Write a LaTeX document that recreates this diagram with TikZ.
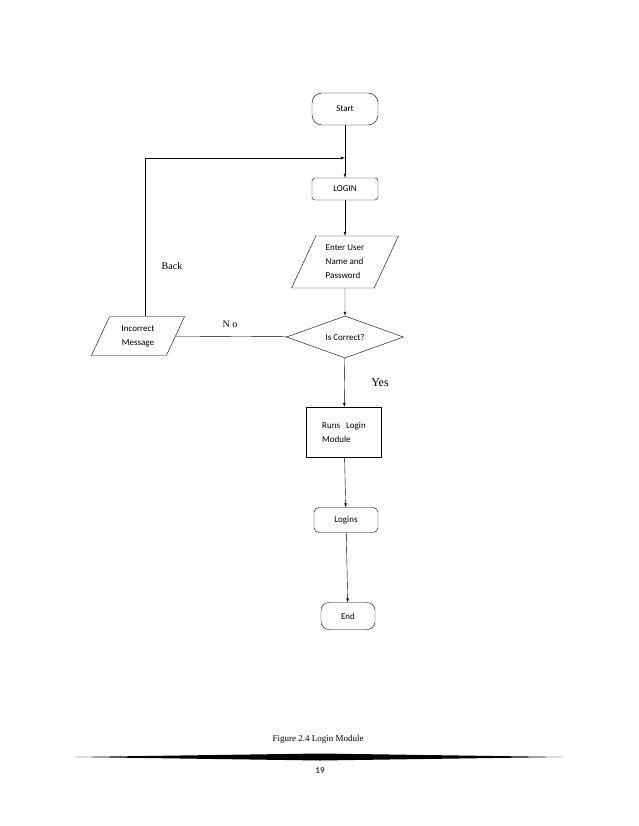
\documentclass[tikz,border=0pt]{standalone}
\usepackage{fontspec}
\setmainfont{Liberation Serif}
\newfontfamily\boxfont{Carlito}
\usetikzlibrary{shapes.geometric}
\begin{document}
\begin{tikzpicture}[x=1pt,y=-1pt,
  box/.style={draw, font=\boxfont\fontsize{9}{14}\selectfont, inner sep=2pt},
  io/.style={box, trapezium, trapezium left angle=65, trapezium right angle=115, align=left},
  arr/.style={-latex, thin}]
\useasboundingbox (0,0) rectangle (638,826);
\node [box, rounded corners=10pt, minimum width=66pt, minimum height=32pt] (start) at (345,109) {Start};
\node [box, rounded corners=3pt, minimum width=66pt, minimum height=22pt] (login) at (345,189) {LOGIN};
\node [io, minimum width=80pt, minimum height=52pt] (enter) at (345,262) {Enter User\\Name and\\Password};
\node [box, diamond, aspect=2.8, minimum width=117pt, minimum height=42pt, inner sep=0pt] (check) at (345,337) {Is Correct?};
\node [io, minimum width=76pt, minimum height=39pt, align=center] (wrong) at (138,336) {Incorrect\\Message};
\node [box, minimum width=75pt, minimum height=50pt, align=left] (runs) at (344,432) {Runs \ \ Login\\Module};
\node [box, rounded corners=5pt, minimum width=64pt, minimum height=25pt] (logins) at (346,520) {Logins};
\node [box, rounded corners=8pt, minimum width=54pt, minimum height=27pt] (end) at (348,616) {End};
\coordinate (join) at (345,158);
\coordinate (corner) at (145,158);

\draw [arr] (start) -- (login);
\draw [arr] (login) -- (enter);
\draw [arr] (enter) -- (check);
\draw [arr] (check) -- (runs);
\draw [arr] (runs) -- (logins);
\draw [arr] (logins) -- (end);
\draw (check) -- (wrong);
\draw [arr] (wrong.north -| corner) -- (corner) -- (join);

\node (back) at (172,266) {\fontsize{10}{12}\selectfont Back};
\node (no) at (230,324) {\fontsize{10}{12}\selectfont N o};
\node (yes) at (380,383) {\fontsize{12}{14}\selectfont Yes};

\node (caption) at (318,739) {\fontsize{9}{11}\selectfont Figure 2.4 Login Module};
\fill (75,757) -- (320,753.5) -- (563,757) -- (320,760.5) -- cycle;
\node (page) at (320,771) {\boxfont\fontsize{9}{11}\selectfont 19};
\end{tikzpicture}
\end{document}
